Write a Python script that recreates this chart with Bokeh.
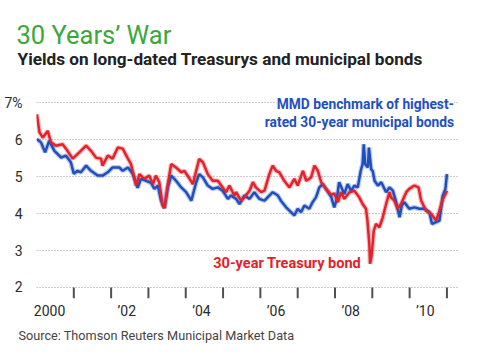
from bokeh.plotting import figure
from bokeh.models import Label, FixedTicker, Range1d, Title
from bokeh.embed import file_html
from bokeh.resources import INLINE

# ---- data (decimal year, yield %) ----
treasury_years = [2000.01, 2000.08, 2000.17, 2000.30, 2000.39, 2000.52, 2000.70, 2000.79, 2000.97,
                  2001.14, 2001.33, 2001.46, 2001.60, 2001.73, 2001.77, 2001.91, 2002.04, 2002.18,
                  2002.31, 2002.45, 2002.53, 2002.67, 2002.76, 2002.89, 2003.02, 2003.12, 2003.20,
                  2003.29, 2003.38, 2003.43, 2003.52, 2003.61, 2003.74, 2003.88, 2003.96, 2004.10,
                  2004.19, 2004.28, 2004.36, 2004.46, 2004.59, 2004.72, 2004.86, 2004.95, 2005.08,
                  2005.17, 2005.30, 2005.35, 2005.48, 2005.57, 2005.71, 2005.80, 2005.88, 2006.02,
                  2006.11, 2006.24, 2006.33, 2006.42, 2006.51, 2006.64, 2006.78, 2006.91, 2007.00,
                  2007.14, 2007.23, 2007.36, 2007.45, 2007.54, 2007.63, 2007.76, 2007.90, 2007.98,
                  2008.08, 2008.16, 2008.25, 2008.39, 2008.52, 2008.65, 2008.74, 2008.83, 2008.87,
                  2008.92, 2008.94, 2008.98, 2009.04, 2009.10, 2009.19, 2009.28, 2009.37, 2009.46,
                  2009.50, 2009.59, 2009.68, 2009.77, 2009.91, 2009.99, 2010.13, 2010.24, 2010.31,
                  2010.44, 2010.58, 2010.71, 2010.80, 2010.89, 2010.96, 2011.00]
treasury_vals = [6.69, 6.20, 6.06, 6.24, 5.93, 5.84, 5.88, 5.76, 5.49,
                 5.65, 5.84, 5.70, 5.51, 5.49, 5.30, 5.57, 5.49, 5.79,
                 5.76, 5.49, 5.35, 4.76, 5.07, 4.94, 5.03, 4.80, 5.03,
                 4.85, 4.22, 4.15, 4.80, 5.34, 5.25, 5.12, 5.16, 4.95,
                 4.80, 5.16, 5.48, 5.39, 5.07, 4.89, 4.89, 4.76, 4.58,
                 4.76, 4.49, 4.58, 4.35, 4.44, 4.62, 4.85, 4.71, 4.58,
                 4.62, 5.07, 5.30, 5.16, 5.12, 4.89, 4.71, 4.94, 4.76,
                 5.16, 4.89, 4.98, 5.30, 5.16, 4.85, 4.67, 4.50, 4.55,
                 4.31, 4.58, 4.40, 4.58, 4.62, 4.44, 4.26, 4.13, 3.81,
                 3.18, 2.64, 2.85, 3.54, 3.72, 3.63, 3.90, 4.26, 4.58,
                 4.44, 4.35, 4.13, 4.26, 4.58, 4.67, 4.76, 4.71, 4.35,
                 4.08, 3.99, 3.81, 4.08, 4.40, 4.53, 4.62]

mmd_years = [2000.01, 2000.12, 2000.23, 2000.34, 2000.48, 2000.66, 2000.79, 2000.92, 2001.00,
             2001.10, 2001.19, 2001.33, 2001.46, 2001.64, 2001.77, 2001.91, 2002.04, 2002.22,
             2002.31, 2002.45, 2002.58, 2002.71, 2002.80, 2002.94, 2003.07, 2003.16, 2003.25,
             2003.34, 2003.43, 2003.52, 2003.61, 2003.74, 2003.88, 2004.01, 2004.15, 2004.28,
             2004.36, 2004.46, 2004.59, 2004.72, 2004.86, 2004.99, 2005.13, 2005.21, 2005.35,
             2005.44, 2005.57, 2005.71, 2005.84, 2005.97, 2006.11, 2006.24, 2006.33, 2006.47,
             2006.55, 2006.69, 2006.82, 2006.91, 2007.00, 2007.09, 2007.18, 2007.31, 2007.40,
             2007.49, 2007.58, 2007.67, 2007.76, 2007.90, 2007.98, 2008.05, 2008.11, 2008.25,
             2008.34, 2008.43, 2008.52, 2008.61, 2008.69, 2008.74, 2008.77, 2008.81, 2008.88,
             2008.91, 2008.97, 2009.01, 2009.06, 2009.15, 2009.24, 2009.37, 2009.46, 2009.55,
             2009.64, 2009.73, 2009.79, 2009.86, 2009.99, 2010.13, 2010.26, 2010.40, 2010.53,
             2010.60, 2010.71, 2010.80, 2010.89, 2010.96, 2011.00]
mmd_vals = [6.02, 5.93, 5.66, 5.97, 5.70, 5.52, 5.57, 5.39, 5.08,
            5.16, 5.12, 5.30, 5.16, 5.03, 5.03, 5.12, 5.25, 5.25,
            5.16, 5.25, 5.08, 4.70, 4.94, 4.89, 4.83, 4.67, 4.76,
            4.35, 4.15, 4.71, 5.03, 4.89, 4.71, 4.58, 4.35, 4.85,
            5.07, 4.98, 4.76, 4.67, 4.71, 4.62, 4.40, 4.49, 4.40,
            4.26, 4.49, 4.40, 4.58, 4.40, 4.35, 4.49, 4.58, 4.49,
            4.35, 4.17, 4.04, 3.95, 4.13, 4.04, 4.22, 4.13, 4.31,
            4.44, 4.71, 4.80, 4.67, 4.45, 4.17, 4.40, 4.85, 4.53,
            4.80, 4.62, 4.76, 4.71, 5.16, 5.34, 5.88, 5.34, 5.25,
            5.79, 5.20, 5.16, 4.89, 4.76, 4.85, 4.58, 4.71, 4.62,
            4.31, 3.90, 4.22, 4.31, 4.13, 4.17, 4.13, 4.13, 4.04,
            3.72, 3.77, 3.81, 4.49, 4.67, 5.07]

y_ticks = [2, 3, 4, 5, 6, 7]
y_label_overrides = {7: "7%"}
x_label_positions = [2000.35, 2002.42, 2004.42, 2006.42, 2008.42, 2010.42]
x_labels = ["2000", "\u201902", "\u201904", "\u201906", "\u201908", "\u201910"]
x_tick_marks = [2001, 2002, 2003, 2004, 2005, 2006, 2007, 2008, 2009, 2010, 2011]

RED = "#e3222b"
BLUE = "#1f4fbf"
FONT = "Roboto"
TICK_DEPTH = 0.3  # year-tick length below the baseline, in y units

baseline = y_ticks[0]
p = figure(width=480, height=355, x_range=Range1d(2000, 2011.31),
           y_range=Range1d(baseline - TICK_DEPTH, 7.2),
           output_backend="svg", toolbar_location=None,
           min_border_left=36, min_border_right=22, min_border_top=95, min_border_bottom=57)
p.outline_line_color = None
p.background_fill_color = "white"
p.border_fill_color = "white"
p.xgrid.visible = False
p.ygrid.ticker = FixedTicker(ticks=y_ticks)
p.ygrid.grid_line_color = "#9a9a9a"
p.ygrid.grid_line_dash = "1 2"
p.ygrid.grid_line_width = 1

# y axis
p.yaxis.ticker = FixedTicker(ticks=y_ticks)
p.yaxis.major_label_overrides = y_label_overrides
p.yaxis.axis_line_color = None
p.yaxis.major_tick_line_color = None
p.yaxis.minor_tick_line_color = None
p.yaxis.major_label_standoff = 8
p.yaxis.major_label_text_font = FONT
p.yaxis.major_label_text_font_size = "14px"
p.yaxis.major_label_text_color = "#2a2a2a"

# x axis: year labels centred in each interval
p.xaxis.ticker = FixedTicker(ticks=x_label_positions, minor_ticks=[])
p.xaxis.major_label_overrides = dict(zip(x_label_positions, x_labels))
p.xaxis.axis_line_color = None
p.xaxis.major_tick_line_color = None
p.xaxis.minor_tick_line_color = None
p.xaxis.major_tick_out = 0
p.xaxis.major_tick_in = 0
p.xaxis.major_label_standoff = 4
p.xaxis.major_label_text_font = FONT
p.xaxis.major_label_text_font_size = "14px"
p.xaxis.major_label_text_color = "#2a2a2a"

# year-boundary tick marks hanging below the baseline
p.segment(x0=x_tick_marks, y0=[baseline] * len(x_tick_marks),
          x1=x_tick_marks, y1=[baseline - TICK_DEPTH] * len(x_tick_marks),
          line_color="#505050", line_width=2)

# lines (soft halo + core)
p.line(mmd_years, mmd_vals, line_color=BLUE, line_width=4.8, line_alpha=0.3)
p.line(treasury_years, treasury_vals, line_color=RED, line_width=4.8, line_alpha=0.3)
p.line(mmd_years, mmd_vals, line_color=BLUE, line_width=2.5)
p.line(treasury_years, treasury_vals, line_color=RED, line_width=2.5)

# series labels
p.add_layout(Label(x=2011.19, y=6.96, text="MMD benchmark of highest-", text_align="right",
                   text_baseline="middle", text_font=FONT, text_font_style="bold",
                   text_font_size="13.8px", text_color=BLUE, background_fill_color="white"))
p.add_layout(Label(x=2011.19, y=6.47, text="rated 30-year municipal bonds", text_align="right",
                   text_baseline="middle", text_font=FONT, text_font_style="bold",
                   text_font_size="13.8px", text_color=BLUE, background_fill_color="white"))
p.add_layout(Label(x=2008.70, y=2.635, text="30-year Treasury bond", text_align="right",
                   text_baseline="middle", text_font=FONT, text_font_style="bold",
                   text_font_size="14.5px", text_color=RED))

# above the frame: an invisible spacer, then subtitle, then title
p.add_layout(Title(text="\u00a0", align="left", standoff=24, text_font_size="1px",
                   text_color="white"), "above")
p.add_layout(Title(text="Yields on long-dated Treasurys and municipal bonds", align="left",
                   offset=-19, standoff=0, text_font=FONT, text_font_style="bold",
                   text_font_size="17.2px", text_color="#222222"), "above")
p.add_layout(Title(text="30 Years\u2019 War", align="left", offset=-20, standoff=-6,
                   text_font=FONT, text_font_style="normal", text_font_size="25.5px",
                   text_color="#3aa83a"), "above")
p.add_layout(Title(text="Source: Thomson Reuters Municipal Market Data", align="left",
                   offset=-18, standoff=8, text_font=FONT, text_font_style="normal",
                   text_font_size="12.7px", text_color="#444444"), "below")

open("out.html", "w").write(file_html(p, INLINE))
